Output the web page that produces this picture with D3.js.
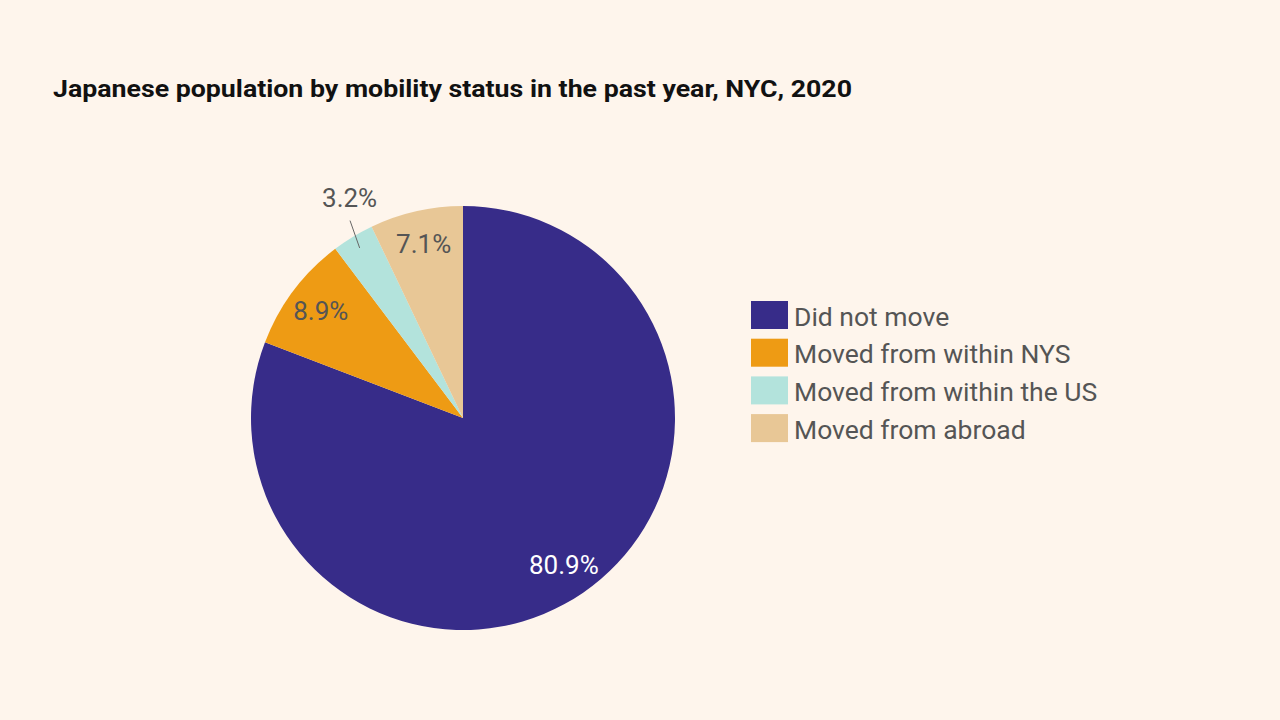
<!DOCTYPE html>
<html>
<head>
<script src="https://cdn.jsdelivr.net/npm/d3@7"></script>
<style>
  body { margin: 0; background: #fef5ec; }
  text { font-family: Roboto, "Noto Sans", sans-serif; }
</style>
</head>
<body>
<div id="chart"></div>
<script>
  var w = 1280, h = 720;

  var categories = ["Did not move", "Moved from within NYS", "Moved from within the US", "Moved from abroad"];
  var values = [80.9, 8.9, 3.2, 7.1];
  var colors = ["#372c89", "#ee9b14", "#b3e3dc", "#e8c796"];
  var labelColors = ["#ffffff", "#555555", "#555555", "#555555"];
  var outside = [false, false, true, false];

  var data = categories.map(function(c, i) {
    return { name: c, value: values[i], color: colors[i], lc: labelColors[i], out: outside[i] };
  });

  var svg = d3.select("#chart").append("svg")
    .attr("width", w).attr("height", h);

  svg.append("rect").attr("width", w).attr("height", h).attr("fill", "#fef5ec");

  svg.append("text")
    .attr("x", 53).attr("y", 97)
    .attr("font-size", 24).attr("font-weight", "bold").attr("fill", "#111")
    .attr("textLength", 799).attr("lengthAdjust", "spacingAndGlyphs")
    .text("Japanese population by mobility status in the past year, NYC, 2020");

  var cx = 463, cy = 418, R = 212;
  var pie = d3.pie().sort(null).value(function(d) { return d.value; });
  var arc = d3.arc().innerRadius(0).outerRadius(R);
  var labelArc = d3.arc().innerRadius(178).outerRadius(178);

  var g = svg.append("g").attr("transform", "translate(" + cx + "," + cy + ")");
  var arcs = pie(data);

  g.selectAll("path").data(arcs).enter().append("path")
    .attr("d", arc)
    .attr("fill", function(d) { return d.data.color; });

  function pt(d, r) {
    var a = (d.startAngle + d.endAngle) / 2;
    return [r * Math.sin(a), -r * Math.cos(a)];
  }

  g.selectAll("text.lbl").data(arcs).enter().append("text")
    .attr("class", "lbl")
    .attr("x", function(d) { return d.data.out ? pt(d, 255)[0] + 19 : labelArc.centroid(d)[0]; })
    .attr("y", function(d) { return d.data.out ? pt(d, 255)[1] - 2 : labelArc.centroid(d)[1]; })
    .attr("text-anchor", "middle")
    .attr("dominant-baseline", "central")
    .attr("font-size", 26)
    .attr("fill", function(d) { return d.data.lc; })
    .text(function(d) { return d.data.value.toFixed(1) + "%"; });

  g.selectAll("line.lead").data(arcs.filter(function(d) { return d.data.out; })).enter()
    .append("line").attr("class", "lead")
    .attr("x1", function(d) { return pt(d, 199)[0]; })
    .attr("y1", function(d) { return pt(d, 199)[1]; })
    .attr("x2", function(d) { return pt(d, 231)[0] + 7; })
    .attr("y2", function(d) { return pt(d, 231)[1]; })
    .attr("stroke", "#666").attr("stroke-width", 1);

  var legend = svg.append("g").attr("transform", "translate(751,301)");
  var row = legend.selectAll("g").data(data).enter().append("g")
    .attr("transform", function(d, i) { return "translate(0," + i * 37.7 + ")"; });
  row.append("rect").attr("width", 37).attr("height", 28)
    .attr("fill", function(d) { return d.color; });
  row.append("text").attr("x", 43).attr("y", 15)
    .attr("dominant-baseline", "central")
    .attr("font-size", 26.5).attr("fill", "#555")
    .text(function(d) { return d.name; });
</script>
</body>
</html>
